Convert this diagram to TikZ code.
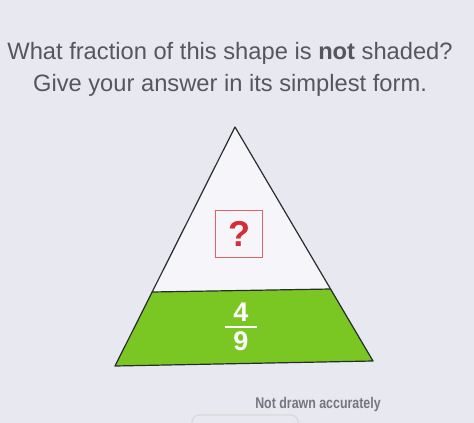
\documentclass[tikz,border=0pt]{standalone}
\usepackage{fontspec}
\setmainfont{Liberation Sans}
\newfontfamily\narrowfont[FakeStretch=0.8]{Liberation Sans}
\usetikzlibrary{positioning}
\definecolor{pageColor}{RGB}{232,232,241}
\definecolor{shapeColor}{RGB}{245,245,250}
\definecolor{shadeColor}{RGB}{122,198,34}
\definecolor{textColor}{RGB}{86,86,94}
\definecolor{noteColor}{RGB}{118,118,128}
\definecolor{markColor}{RGB}{214,44,56}
\definecolor{edgeColor}{RGB}{40,44,48}

\begin{document}
\begin{tikzpicture}[x=1pt,y=-1pt,
		% Define styles for nodes
		question/.style={
				font=\fontsize{23.7}{27}\selectfont,
				text=textColor,
				inner sep=0pt
			},
		qbox/.style={
				draw=markColor!75,
				thick,
				rectangle,
				minimum width=47pt,
				minimum height=47pt,
				fill=shapeColor,
				text=markColor,
				font=\fontsize{36}{40}\selectfont\bfseries
			},
		fraction/.style={
				text=white,
				align=center,
				inner sep=0pt,
				font=\fontsize{27}{28}\selectfont\bfseries
			},
		note/.style={
				text=noteColor,
				inner sep=0pt,
				font=\narrowfont\fontsize{15.5}{17}\selectfont\bfseries
			},
		edge/.style={
				draw=edgeColor,
				line width=1.2pt,
				line join=round
			}
	]

	% Page
	\fill[pageColor] (0,0) rectangle (474,423);
	\useasboundingbox (0,0) rectangle (474,423);

	% Question text
	\node[question] (line1) at (230,53) {What fraction of this shape is \textbf{not} shaded?};
	\node[question, below=10pt of line1] (line2) {Give your answer in its simplest form.};

	% Triangle corners and cut
	\coordinate (apex) at (235,127);
	\coordinate (botleft) at (115,366);
	\coordinate (botright) at (373,361);
	\coordinate (cutleft) at (152,292);
	\coordinate (cutright) at (331,289);

	% Unshaded part
	\fill[shapeColor] (apex) -- (cutleft) -- (cutright) -- cycle;

	% Shaded part
	\fill[shadeColor] (cutleft) -- (botleft) -- (botright) -- (cutright) -- cycle;

	% Outline
	\draw[edge] (apex) -- (botleft) -- (botright) -- cycle;
	\draw[edge] (cutleft) -- (cutright);

	% Labels
	\node[qbox] (ask) at (239,234) {?};
	\node[fraction] (frac) at (241,327) {4\\[-22pt]\rule{32pt}{2pt}\\[-5pt]9};

	% Footnote
	\node[note] (note) at (318,404) {Not drawn accurately};

	% Button edge
	\draw[draw=white!70!gray, line width=1.2pt, rounded corners=7pt] (192,415) rectangle (298,445);

\end{tikzpicture}
\end{document}
